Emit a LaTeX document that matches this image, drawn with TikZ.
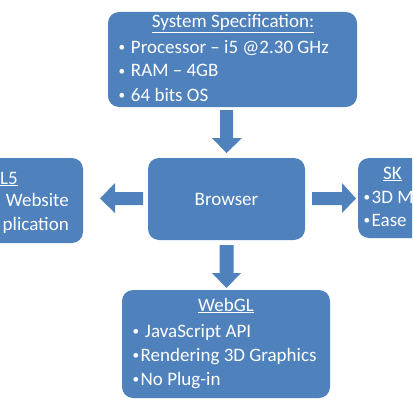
\documentclass[tikz,border=0pt]{standalone}
\usepackage{fontspec}
\setmainfont{Carlito}
\definecolor{boxblue}{HTML}{4F81BD}
\newcommand\bul{\makebox[0.5em][c]{\raisebox{0.06em}{\scalebox{0.7}{•}}}}
\tikzset{
  box/.style={fill=boxblue, draw=none, rounded corners=11pt, inner sep=0pt},
  txt/.style={text=white, font=\fontsize{19}{23}\selectfont, inner sep=0pt},
  blockarrow/.style={fill=boxblue, draw=none}
}
\begin{document}
\begin{tikzpicture}[x=1pt,y=-1pt]
\useasboundingbox (0,0) rectangle (412,412);
\clip (0,0) rectangle (412,412);
\fill[white] (0,0) rectangle (412,412);
% boxes
\node[box, minimum width=249pt, minimum height=95pt] (spec) at (232.5,59.5) {};
\node[box, minimum width=157pt, minimum height=82pt] (browser) at (226.5,199) {};
\node[box, minimum width=183pt, minimum height=85pt] (html) at (-8.5,200.5) {};
\node[box, minimum width=160pt, minimum height=80pt] (sketch) at (438,198) {};
\node[box, minimum width=208pt, minimum height=108pt] (webgl) at (226,344) {};
% texts
\node[txt, anchor=base] (spect) at (233,28) {\underline{System Specification:}};
\node[txt, anchor=base west] (spec1) at (117,53) {\bul\ Processor – i5 @2.30 GHz};
\node[txt, anchor=base west] (spec2) at (117,77) {\bul\ RAM – 4GB};
\node[txt, anchor=base west] (spec3) at (117,101) {\bul\ 64 bits OS};
\node[txt] (browsert) at (226.5,199) {Browser};
\node[txt, anchor=base east] (htmlt) at (18,184) {\underline{L5}};
\node[txt, anchor=base east] (html1) at (69,206) {Website};
\node[txt, anchor=base east] (html2) at (69,230) {plication};
\node[txt, anchor=base west] (sketcht) at (383,179) {\underline{SK}};
\node[txt, anchor=base west] (sketch1) at (362,203) {\bul 3D M};
\node[txt, anchor=base west] (sketch2) at (362,226) {\bul Ease};
\node[txt, anchor=base] (webglt) at (226,311) {\underline{WebGL}};
\node[txt, anchor=base west] (webgl1) at (131,337) {\bul\ JavaScript API};
\node[txt, anchor=base west] (webgl2) at (131,361) {\bul Rendering 3D Graphics};
\node[txt, anchor=base west] (webgl3) at (131,385) {\bul No Plug-in};
% block arrows
\fill[blockarrow] (220,110) -- (233,110) -- (233,138) -- (242,138) -- (226.5,153) -- (212,138) -- (220,138) -- cycle;
\fill[blockarrow] (143,192) -- (143,205) -- (115,205) -- (115,213) -- (100,198.5) -- (115,183) -- (115,192) -- cycle;
\fill[blockarrow] (312,192) -- (312,205) -- (342,205) -- (342,213) -- (356,198.5) -- (342,183) -- (342,192) -- cycle;
\fill[blockarrow] (219.5,245) -- (233.5,245) -- (233.5,273) -- (241,273) -- (226.5,288) -- (212,273) -- (219.5,273) -- cycle;
\end{tikzpicture}
\end{document}
